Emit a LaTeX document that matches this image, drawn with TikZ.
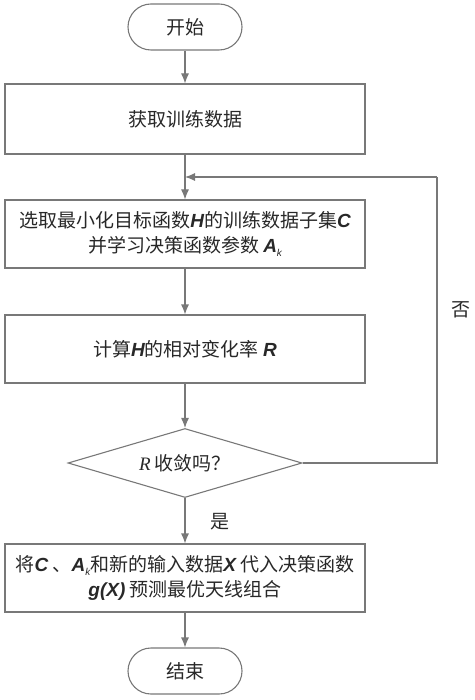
\documentclass[tikz,border=0pt]{standalone}
\usepackage{fontspec}
\setmainfont{Noto Sans CJK SC}
\newfontfamily\lsans{Liberation Sans}
\newfontfamily\lserif{Liberation Serif}
\usetikzlibrary{shapes.geometric,arrows.meta}
\newcommand\bi[1]{{\lsans\bfseries\itshape #1}}
\newcommand\sbk[1]{\raisebox{-0.2em}{\fontsize{10}{10}\selectfont\lsans\itshape #1}}
\definecolor{lc}{RGB}{120,120,120}
\definecolor{tc}{RGB}{40,40,40}
\begin{document}
\begin{tikzpicture}[x=1pt,y=-1pt,
  every node/.style={text=tc, font=\fontsize{19}{25}\selectfont},
  box/.style={draw=lc, line width=1.1pt, minimum width=360pt, minimum height=68pt, inner sep=0pt, align=center},
  term/.style={draw=lc, line width=1.1pt, minimum width=114pt, minimum height=46pt, rounded corners=23pt, inner sep=0pt},
  decision/.style={draw=lc, line width=1.1pt, diamond, aspect=3.4, minimum width=234pt, minimum height=69pt, inner sep=0pt},
  conn/.style={draw=lc, line width=1.1pt, -{Latex[length=10pt,width=8pt]}},
  plain/.style={draw=lc, line width=1.1pt}]
\useasboundingbox (0,0) rectangle (474,700);
\node[term] (start) at (185,27) {开始};
\node[box, minimum height=70pt] (b1) at (185,119) {获取训练数据};
\node[box] (b2) at (185,234) {选取最小化目标函数\bi{H}的训练数据子集\bi{C}\\并学习决策函数参数 \bi{A}\sbk{k}};
\node[box] (b3) at (185,349) {计算\bi{H}的相对变化率 \bi{R}};
\node[decision] (dec) at (185,463) {{\lserif\itshape R} 收敛吗？};
\node[box] (b4) at (185,578) {将\bi{C} 、\bi{A}\sbk{k}和新的输入数据\bi{X} 代入决策函数\\\bi{g(X)} 预测最优天线组合};
\node[term] (end) at (185,671) {结束};
\coordinate (m) at (185,177);
\coordinate (r) at (437,177);
\draw[conn] (start) -- (b1);
\draw[conn] (b1) -- (b2);
\draw[conn] (b2) -- (b3);
\draw[conn] (b3) -- (dec);
\draw[conn] (dec) -- (b4);
\draw[conn] (b4) -- (end);
\draw[plain] (dec.east) -- (dec.east -| r) -- (r);
\draw[conn] (r) -- (m);
\node (no) at (461,310) {否};
\node (yes) at (220,522) {是};
\end{tikzpicture}
\end{document}
